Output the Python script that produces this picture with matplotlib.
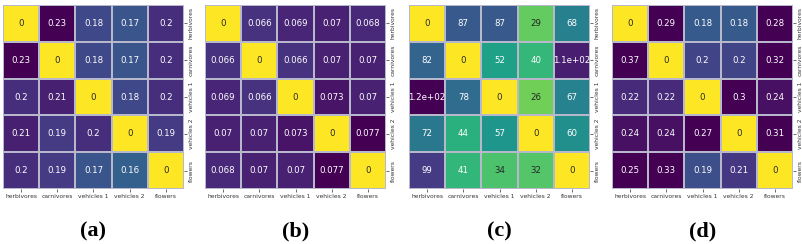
import matplotlib
matplotlib.use("Agg")
import matplotlib.pyplot as plt
import seaborn as sns
import numpy as np

categories = ['herbivores', 'carnivores', 'vehicles 1', 'vehicles 2', 'flowers']

values_a = [[0, 0.23, 0.18, 0.17, 0.2],
            [0.23, 0, 0.18, 0.17, 0.2],
            [0.2, 0.21, 0, 0.18, 0.2],
            [0.21, 0.19, 0.2, 0, 0.19],
            [0.2, 0.19, 0.17, 0.16, 0]]
values_b = [[0, 0.066, 0.069, 0.07, 0.068],
            [0.066, 0, 0.066, 0.07, 0.07],
            [0.069, 0.066, 0, 0.073, 0.07],
            [0.07, 0.07, 0.073, 0, 0.077],
            [0.068, 0.07, 0.07, 0.077, 0]]
values_c = [[0, 87, 87, 29, 68],
            [82, 0, 52, 40, 110],
            [120, 78, 0, 26, 67],
            [72, 44, 57, 0, 60],
            [99, 41, 34, 32, 0]]
values_d = [[0, 0.29, 0.18, 0.18, 0.28],
            [0.37, 0, 0.2, 0.2, 0.32],
            [0.22, 0.22, 0, 0.3, 0.24],
            [0.24, 0.24, 0.27, 0, 0.31],
            [0.25, 0.33, 0.19, 0.21, 0]]
panel_labels = ['(a)', '(b)', '(c)', '(d)']
color_max = [0.23, 0.077, 120, 0.25]

W, H = 803, 244
fig = plt.figure(figsize=(W / 100, H / 100), dpi=100)

lefts = [3, 205, 409, 612]
top, width, height = 5, 181, 184

for i, (vals, lab, vmax) in enumerate(zip([values_a, values_b, values_c, values_d],
                                           panel_labels, color_max)):
    left = lefts[i]
    ax = fig.add_axes([left / W, (H - top - height) / H, width / W, height / H])
    sns.heatmap(np.array(vals, dtype=float), ax=ax, cmap='viridis_r', vmin=0, vmax=vmax,
                annot=True, fmt='.2g', annot_kws={'fontsize': 6.2},
                cbar=False, linewidths=0.2, linecolor='#b8b8cc',
                xticklabels=categories, yticklabels=categories, square=False)
    ax.yaxis.tick_right()
    ax.set_yticklabels(categories, rotation=90, va='center', fontsize=4.3, color='#333333')
    ax.set_xticklabels(categories, rotation=0, fontsize=4.3, color='#333333')
    ax.tick_params(axis='both', length=2, width=0.5, pad=1.5, colors='#333333')
    fig.text((left + width / 2) / W, (H - 231) / H, lab, ha='center', va='center',
             fontsize=16, fontweight='bold', family='Liberation Serif')

fig.savefig('out.png', dpi=100)
